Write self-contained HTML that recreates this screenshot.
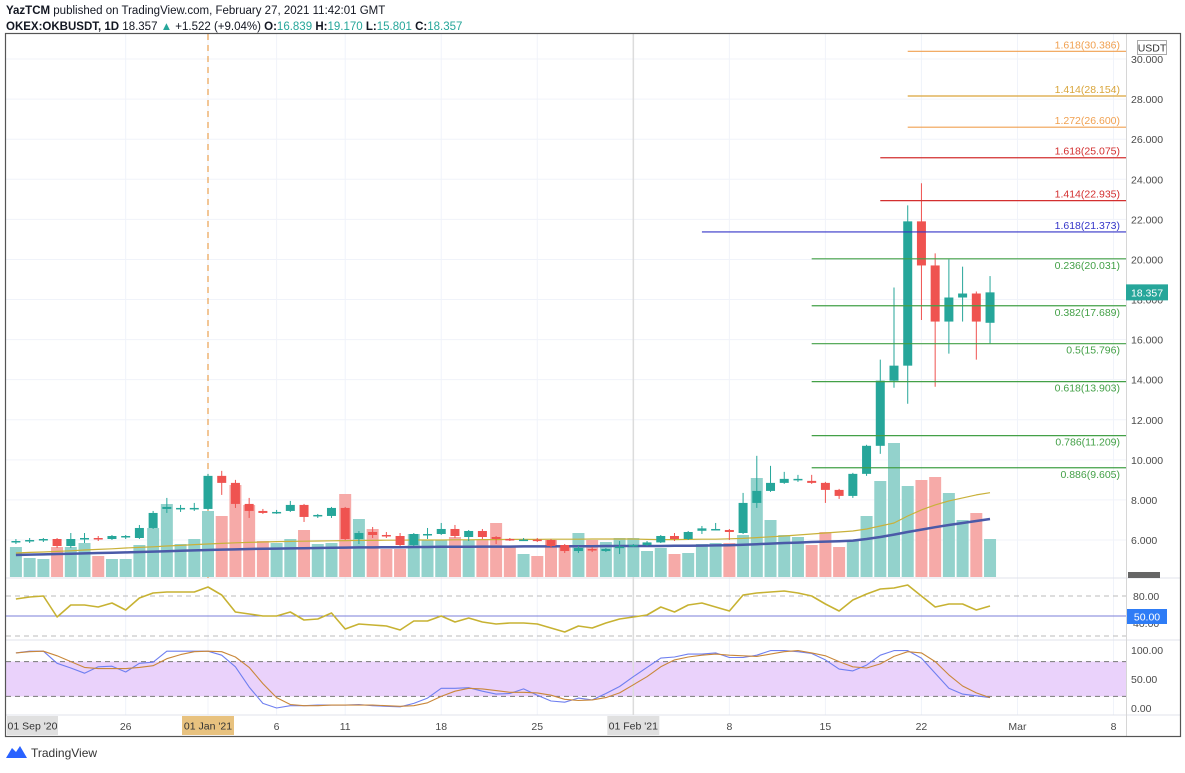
<!DOCTYPE html>
<html><head><meta charset="utf-8">
<style>
html,body{margin:0;padding:0;background:#fff;}
body{width:1185px;height:768px;overflow:hidden;font-family:"Liberation Sans",sans-serif;}
svg text{font-family:"Liberation Sans",sans-serif;}
</style></head>
<body>
<svg id="chart" width="1185" height="768" viewBox="0 0 1185 768" xmlns="http://www.w3.org/2000/svg">
  <rect x="0" y="0" width="1185" height="768" fill="#fff"/>
  <text x="6" y="14" font-size="11.5" fill="#131722"><tspan font-weight="bold">YazTCM</tspan> published on TradingView.com, February 27, 2021 11:42:01 GMT</text>
  <text x="6" y="30" font-size="11.5" fill="#131722"><tspan font-weight="bold">OKEX:OKBUSDT, 1D</tspan> 18.357 <tspan fill="#26a69a">▲</tspan> +1.522 (+9.04%) <tspan font-weight="bold">O:</tspan><tspan fill="#26a69a">16.839</tspan> <tspan font-weight="bold">H:</tspan><tspan fill="#26a69a">19.170</tspan> <tspan font-weight="bold">L:</tspan><tspan fill="#26a69a">15.801</tspan> <tspan font-weight="bold">C:</tspan><tspan fill="#26a69a">18.357</tspan></text>
  <g id="grid"></g>
  <rect x="6" y="661.6" width="1120" height="34.8" fill="#ead2fb"/>
  <g id="dash"></g>
  <g id="vol"></g>
  <g id="ma"></g>
  <g id="candles"></g>
  <g id="fib"></g>
  <g id="ind"></g>
  <g id="axes"></g>
  <rect x="5.5" y="33.5" width="1175" height="703" fill="none" stroke="#555" stroke-width="1.2"/>
  <g>
    <path d="M6 758 L12 748 L16 752 L20 746 L27 758 Z" fill="#2962ff"/>
    <text x="31" y="757" font-size="12" fill="#333">TradingView</text>
  </g>
</svg>
<script>
const dates = ["Dec 18","Dec 19","Dec 20","Dec 21","Dec 22","Dec 23","Dec 24","Dec 25","Dec 26","Dec 27","Dec 28","Dec 29","Dec 30","Dec 31","Jan 1","Jan 2","Jan 3","Jan 4","Jan 5","Jan 6","Jan 7","Jan 8","Jan 9","Jan 10","Jan 11","Jan 12","Jan 13","Jan 14","Jan 15","Jan 16","Jan 17","Jan 18","Jan 19","Jan 20","Jan 21","Jan 22","Jan 23","Jan 24","Jan 25","Jan 26","Jan 27","Jan 28","Jan 29","Jan 30","Jan 31","Feb 1","Feb 2","Feb 3","Feb 4","Feb 5","Feb 6","Feb 7","Feb 8","Feb 9","Feb 10","Feb 11","Feb 12","Feb 13","Feb 14","Feb 15","Feb 16","Feb 17","Feb 18","Feb 19","Feb 20","Feb 21","Feb 22","Feb 23","Feb 24","Feb 25","Feb 26","Feb 27"];
const opens = [5.9,5.95,6.0,6.05,5.7,6.05,6.1,6.05,6.15,6.1,6.6,7.55,7.55,7.6,7.55,9.2,8.85,7.8,7.45,7.35,7.45,7.75,7.2,7.2,7.6,6.05,6.4,6.25,6.2,5.75,6.3,6.3,6.55,6.15,6.45,6.15,6.05,6.0,6.02,6.0,5.75,5.45,5.55,5.45,5.6,5.7,5.75,5.88,6.2,6.05,6.46,6.55,6.5,6.35,7.85,8.45,8.85,9.0,8.95,8.85,8.5,8.2,9.3,10.7,13.95,14.7,21.9,19.7,16.9,18.1,18.3,16.839];
const highs = [6.05,6.1,6.1,6.1,6.35,6.35,6.2,6.25,6.25,6.75,7.45,8.1,7.75,7.85,9.3,9.45,9.0,8.1,7.55,7.5,7.95,7.8,7.3,7.65,7.65,6.45,6.65,6.4,6.35,6.35,6.6,6.85,6.75,6.5,6.55,6.2,6.1,6.1,6.1,6.05,5.8,5.7,5.65,5.6,5.95,5.8,5.95,6.25,6.35,6.45,6.7,6.85,6.55,8.35,10.2,9.7,9.4,9.25,9.25,8.9,8.55,9.35,10.75,15.0,18.6,22.7,23.8,20.3,20.0,19.64,18.4,19.17];
const lows = [5.8,5.85,5.9,5.6,5.6,5.85,5.95,6.0,6.05,6.05,6.55,7.35,7.4,7.45,7.5,8.25,7.6,7.1,7.3,7.3,7.4,6.9,7.1,7.1,6.0,5.8,6.1,6.1,5.7,5.7,6.05,6.25,6.1,5.95,6.05,5.8,5.95,5.95,5.9,5.6,5.35,5.35,5.4,5.4,5.3,5.65,5.7,5.85,5.95,6.0,6.3,6.5,6.0,6.3,7.6,8.4,8.8,8.9,8.8,7.85,8.05,8.1,9.2,10.3,13.6,12.8,16.98,13.65,15.3,16.9,15.0,15.801];
const closes = [5.95,6.0,6.05,5.7,6.05,6.1,6.05,6.2,6.2,6.6,7.35,7.65,7.6,7.6,9.2,8.85,7.8,7.45,7.35,7.4,7.75,7.15,7.25,7.6,6.05,6.35,6.25,6.2,5.75,6.3,6.3,6.55,6.2,6.45,6.15,6.05,6.0,6.02,6.0,5.7,5.45,5.6,5.5,5.55,5.67,5.75,5.88,6.2,6.05,6.4,6.58,6.55,6.4,7.85,8.45,8.85,9.05,9.05,8.85,8.5,8.2,9.3,10.7,13.95,14.7,21.9,19.7,16.9,18.1,18.3,16.9,18.357];
const volumes = [30,19,18,30,30,34,21,18,18,32,49,73,33,38,66,61,92,72,36,34,38,47,33,34,83,58,48,28,28,43,37,37,40,37,37,54,30,23,21,37,31,44,37,35,39,39,26,29,23,24,33,34,34,42,99,57,42,40,32,45,30,37,61,96,134,91,97,100,84,57,64,38];
const maSlow = [5.25,5.27,5.28,5.3,5.31,5.33,5.35,5.36,5.38,5.4,5.42,5.44,5.46,5.48,5.5,5.52,5.53,5.55,5.56,5.57,5.58,5.59,5.6,5.61,5.62,5.63,5.63,5.64,5.64,5.65,5.65,5.66,5.66,5.66,5.67,5.67,5.67,5.68,5.68,5.68,5.69,5.69,5.69,5.7,5.7,5.7,5.7,5.7,5.71,5.71,5.72,5.73,5.74,5.76,5.79,5.82,5.85,5.87,5.9,5.92,5.94,5.97,6.05,6.15,6.27,6.4,6.52,6.64,6.75,6.85,6.95,7.05];
const maFast = [5.35,5.38,5.4,5.43,5.46,5.5,5.53,5.56,5.6,5.63,5.66,5.7,5.73,5.77,5.8,5.83,5.86,5.88,5.9,5.92,5.93,5.94,5.95,5.96,5.97,5.98,5.98,5.99,5.99,6.0,6.0,6.0,6.01,6.01,6.02,6.02,6.03,6.03,6.03,6.04,6.04,6.04,6.05,6.05,6.05,6.05,6.03,6.02,6.02,6.03,6.04,6.04,6.06,6.08,6.12,6.16,6.2,6.25,6.3,6.35,6.4,6.45,6.55,6.7,6.85,7.2,7.5,7.75,7.95,8.1,8.25,8.36];
const rsi = [77,79,80,59,71,71,69,73,66,78,83,84,84,84,89,81,64,62,60,60,64,56,57,63,47,52,51,50,46,55,55,60,54,58,54,52,53,53,52,48,44,50,48,53,57,59,61,69,64,71,73,69,65,81,83,84,85,83,80,72,65,76,82,87,88,91,80,69,72,72,66,70];
const stochK = [95,98,98,77,69,60,71,72,62,77,79,98,98,98,98,91,71,36,8,0,4,4,5,5,5,6,4,3,2,8,17,34,34,35,29,24,25,33,22,12,10,17,14,25,37,54,70,86,88,93,93,95,87,87,91,99,99,97,94,83,67,64,74,91,99,99,86,60,34,24,21,18];
const stochD = [95,97,98,90,80,70,68,68,68,70,73,85,92,97,98,97,88,70,42,18,6,4,4,5,5,5,5,4,3,4,9,20,29,34,33,30,27,27,26,22,15,13,14,18,26,40,54,71,83,88,91,93,91,90,89,93,97,99,95,90,80,71,69,76,89,97,95,80,57,38,26,18];
const priceTicks = [6,8,10,12,14,16,18,20,22,24,26,28,30];
const timeTickLabels = ["26","01 Jan '21","6","11","18","25","01 Feb '21","8","15","22","Mar","8"];
const timeTickIdx = [8,14,19,24,31,38,45,52,59,66,73,80];
const fibLabels = ["1.618(30.386)","1.414(28.154)","1.272(26.600)","1.618(25.075)","1.414(22.935)","1.618(21.373)","0.236(20.031)","0.382(17.689)","0.5(15.796)","0.618(13.903)","0.786(11.209)","0.886(9.605)"];
const fibPrices = [30.386,28.154,26.6,25.075,22.935,21.373,20.031,17.689,15.796,13.903,11.209,9.605];
const fibStartIdx = [65,65,65,63,63,50,58,58,58,58,58,58];
const fibColors = ["#f0a050","#d9a53a","#f0a050","#d32f2f","#d32f2f","#3535c8","#43a047","#43a047","#43a047","#43a047","#43a047","#43a047"];

const NS = "http://www.w3.org/2000/svg";
const X0 = 6, X1 = 1126;
function xOf(i){ return 208 + (i - 14) * 13.72; }
function yP(p){ return 540 - (p - 6) * 20.04; }
function yV(v){ return 577 - v; }
function yR(v){ return 636 - (v - 40); }
function yS(v){ return 708 - v * 0.58; }
function mk(tag, attrs, parent){ const e = document.createElementNS(NS, tag); for (const k in attrs) e.setAttribute(k, attrs[k]); parent.appendChild(e); return e; }

const grid = document.getElementById('grid');
priceTicks.forEach(p => {
  const l = mk('line', {x1:X0, x2:X1, y1:yP(p), y2:yP(p), stroke:'#f0f3fa', 'stroke-width':1}, grid);
  
  
});
timeTickIdx.forEach(i => {
  const l = mk('line', {x1:xOf(i), x2:xOf(i), y1:34, y2:715, stroke:'#f0f3fa', 'stroke-width':1}, grid);
  
  
});
[578, 640, 715].forEach(y => mk('line', {x1:X0, x2:1180, y1:y, y2:y, stroke:'#e0e3eb', 'stroke-width':1}, grid));
mk('line', {x1:X1+0.5, x2:X1+0.5, y1:34, y2:737, stroke:'#d6d6d6', 'stroke-width':1}, grid);

const dash = document.getElementById('dash');
const jan = mk('line', {x1:xOf(14), x2:xOf(14), y1:34, y2:578, stroke:'#e8a050', 'stroke-width':1.2, 'stroke-dasharray':'6 5'}, dash);


const feb = mk('line', {x1:xOf(45), x2:xOf(45), y1:34, y2:715, stroke:'#dcdcdc', 'stroke-width':1.5}, dash);


[596, 636].forEach(y => mk('line', {x1:X0, x2:X1, y1:y, y2:y, stroke:'#bbb', 'stroke-dasharray':'5 4'}, dash));
[661.6, 696.4].forEach(y => mk('line', {x1:X0, x2:X1, y1:y, y2:y, stroke:'#777', 'stroke-dasharray':'5 4'}, dash));
const rl = mk('line', {x1:X0, x2:X1, y1:616, y2:616, stroke:'#7b7fd8', 'stroke-width':1}, dash);



const vol = document.getElementById('vol');
volumes.forEach((v, i) => {
  const up = closes[i] >= opens[i];
  const r = mk('rect', {x:xOf(i)-6, y:yV(v), width:12, height:v, fill: up ? '#93d2cc' : '#f6aaa8'}, vol);
  
  
});

const ma = document.getElementById('ma');
function poly(arr, yf, color, w, parent, name){
  const pts = arr.map((v, i) => xOf(i).toFixed(1) + ',' + yf(v).toFixed(1)).join(' ');
  const p = mk('polyline', {points:pts, fill:'none', stroke:color, 'stroke-width':w, 'stroke-linejoin':'round'}, parent);
  
  
}
poly(maFast, yP, '#c9b13a', 1.2, ma, 'ma-fast-line');
poly(maSlow, yP, '#4a5aa8', 2.5, ma, 'ma-slow-line');

const cg = document.getElementById('candles');
opens.forEach((o, i) => {
  const c = closes[i], up = c >= o, col = up ? '#26a69a' : '#ef5350';
  const g = mk('g', {}, cg);
  
  
  const x = xOf(i);
  mk('line', {x1:x, x2:x, y1:yP(highs[i]), y2:yP(lows[i]), stroke:col, 'stroke-width':1}, g);
  const top = yP(Math.max(o, c)), bot = yP(Math.min(o, c));
  mk('rect', {x:x-4.5, y:top, width:9, height:Math.max(1.5, bot-top), fill:col}, g);
});

const fg = document.getElementById('fib');
fibPrices.forEach((p, i) => {
  const y = yP(p);
  const l = mk('line', {x1:xOf(fibStartIdx[i]), x2:X1, y1:y, y2:y, stroke:fibColors[i], 'stroke-width':1.2}, fg);
  
  
  const below = i >= 6;
  const t = mk('text', {x:1120, y: below ? y+10 : y-3, 'font-size':10.5, fill:fibColors[i], 'text-anchor':'end'}, fg);
  t.textContent = fibLabels[i];
  
  
});

const ind = document.getElementById('ind');
poly(rsi, yR, '#c7b232', 1.6, ind, 'rsi-line');
poly(stochK, yS, '#6f7ff0', 1.1, ind, 'stoch-k-line');
poly(stochD, yS, '#c9873a', 1.1, ind, 'stoch-d-line');

const ax = document.getElementById('axes');
priceTicks.forEach(p => {
  const t = mk('text', {x:1131, y:yP(p)+4, 'font-size':10.5, fill:'#4a4a4a'}, ax);
  t.textContent = p.toFixed(3);
  
  
});
function box(x, y, w, h, fill, txt, tc, name, fs){
  const g = mk('g', {}, ax);
  
  
  mk('rect', {x:x, y:y, width:w, height:h, fill:fill}, g);
  const t = mk('text', {x:x+w/2, y:y+h/2+4, 'font-size':fs||10.5, fill:tc, 'text-anchor':'middle'}, g);
  t.textContent = txt;
}
box(1137, 40, 30, 15, '#fff', 'USDT', '#333', 'currency-label');
mk('rect', {x:1137.5, y:40.5, width:29, height:14, fill:'none', stroke:'#aaa'}, ax);
box(1126, yP(closes[closes.length-1])-8, 42, 16, '#26a69a', closes[closes.length-1].toFixed(3), '#fff', 'last-price-label');
box(1128, 572, 32, 6, '#666', '', '#fff', 'volume-label');
[[80,596],[40,623]].forEach(a => {
  const t = mk('text', {x:1133, y:a[1]+4, 'font-size':10.5, fill:'#4a4a4a'}, ax);
  t.textContent = a[0].toFixed(2);
  
  
});
box(1127, 609, 40, 15, '#2e7cf6', '50.00', '#fff', 'rsi-value-label');
[100,50,0].forEach(v => {
  const t = mk('text', {x:1131, y:yS(v)+4, 'font-size':10.5, fill:'#4a4a4a'}, ax);
  t.textContent = v.toFixed(2);
  
  
});
timeTickLabels.forEach((s, k) => {
  const x = xOf(timeTickIdx[k]);
  if (s.length > 4) {
    box(x-26, 716, 52, 19, s.indexOf('Jan') >= 0 ? '#e8c27f' : '#e0e0e0', s, '#333', 'time-tick-label', 10.5);
  } else {
    const t = mk('text', {x:x, y:730, 'font-size':10.5, fill:'#4a4a4a', 'text-anchor':'middle'}, ax);
    t.textContent = s;
    
    
  }
});
box(7, 716, 51, 19, '#e0e0e0', "01 Sep '20", '#333', 'range-start-label');
</script>
</body></html>
